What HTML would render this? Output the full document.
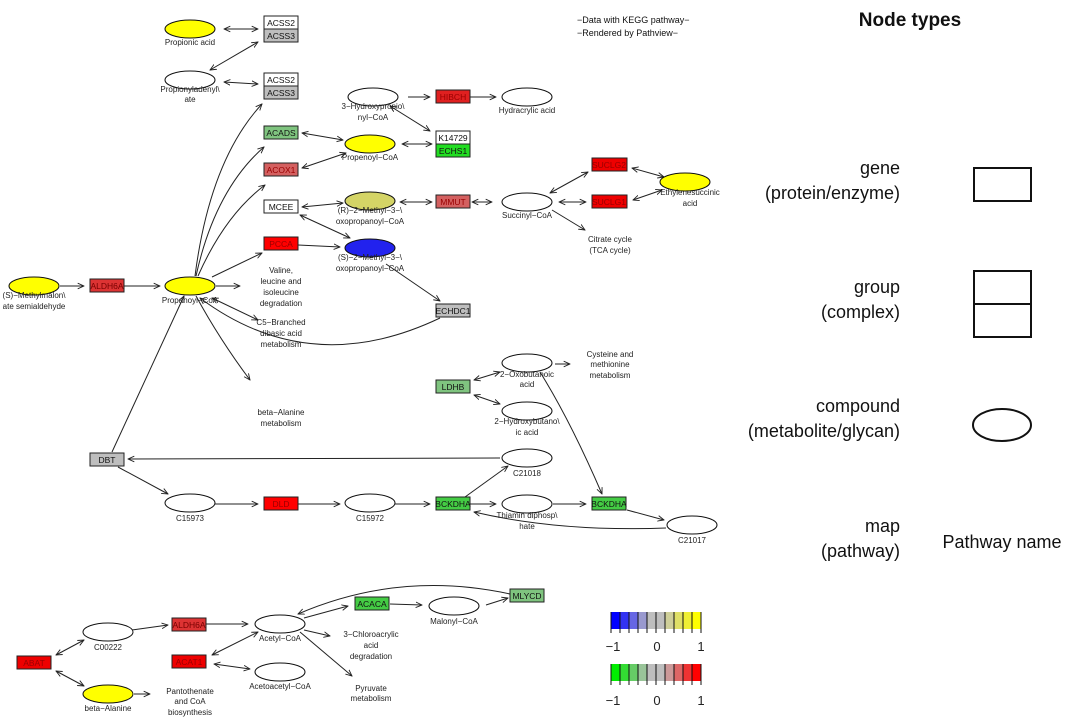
<!DOCTYPE html>
<html><head><meta charset="utf-8"><style>
html,body{margin:0;padding:0;background:#fff;}
svg{display:block;font-family:"Liberation Sans",sans-serif;}
.n{font-size:8px;fill:#222;text-anchor:middle;}
.g{font-size:8.5px;text-anchor:middle;}
.e{stroke:#222;stroke-width:1;fill:none;}
.L{font-size:18px;fill:#111;text-anchor:end;}
</style></head><body>
<svg width="1080" height="720" viewBox="0 0 1080 720" xmlns="http://www.w3.org/2000/svg">
<defs>
<marker id="a" viewBox="0 0 10 10" refX="9" refY="5" markerWidth="7" markerHeight="7" orient="auto-start-reverse"><path d="M0,1 L9,5 L0,9" fill="none" stroke="#222" stroke-width="1.3"/></marker>
</defs>
<g class="e">
<line x1="224" y1="29" x2="258" y2="29" marker-start="url(#a)" marker-end="url(#a)"/>
<line x1="210" y1="70" x2="258" y2="42" marker-start="url(#a)" marker-end="url(#a)"/>
<line x1="224" y1="82" x2="258" y2="84" marker-start="url(#a)" marker-end="url(#a)"/>
<path d="M195,276 Q210,160 262,104" marker-end="url(#a)"/>
<path d="M196,276 Q215,190 264,147" marker-end="url(#a)"/>
<path d="M198,276 Q225,215 265,185" marker-end="url(#a)"/>
<line x1="212" y1="277" x2="262" y2="253" marker-end="url(#a)"/>
<line x1="216" y1="286" x2="240" y2="286" marker-end="url(#a)"/>
<line x1="212" y1="298" x2="258" y2="320" marker-start="url(#a)" marker-end="url(#a)"/>
<path d="M196,296 Q220,340 250,380" marker-end="url(#a)"/>
<path d="M440,318 Q310,380 200,298" marker-end="url(#a)"/>
<line x1="60" y1="286" x2="84" y2="286" marker-end="url(#a)"/>
<line x1="124" y1="286" x2="160" y2="286" marker-end="url(#a)"/>
<line x1="302" y1="133" x2="343" y2="140" marker-start="url(#a)" marker-end="url(#a)"/>
<line x1="302" y1="168" x2="346" y2="153" marker-start="url(#a)" marker-end="url(#a)"/>
<line x1="302" y1="207" x2="343" y2="203" marker-start="url(#a)" marker-end="url(#a)"/>
<line x1="300" y1="215" x2="350" y2="238" marker-start="url(#a)" marker-end="url(#a)"/>
<line x1="298" y1="245" x2="340" y2="247" marker-end="url(#a)"/>
<line x1="386" y1="264" x2="440" y2="301" marker-end="url(#a)"/>
<line x1="400" y1="202" x2="432" y2="202" marker-start="url(#a)" marker-end="url(#a)"/>
<line x1="402" y1="144" x2="432" y2="144" marker-start="url(#a)" marker-end="url(#a)"/>
<line x1="390" y1="106" x2="430" y2="131" marker-start="url(#a)" marker-end="url(#a)"/>
<line x1="408" y1="97" x2="430" y2="97" marker-end="url(#a)"/>
<line x1="470" y1="97" x2="496" y2="97" marker-end="url(#a)"/>
<line x1="472" y1="202" x2="492" y2="202" marker-start="url(#a)" marker-end="url(#a)"/>
<line x1="550" y1="193" x2="588" y2="172" marker-start="url(#a)" marker-end="url(#a)"/>
<line x1="559" y1="202" x2="586" y2="202" marker-start="url(#a)" marker-end="url(#a)"/>
<line x1="552" y1="210" x2="585" y2="230" marker-end="url(#a)"/>
<line x1="632" y1="168" x2="664" y2="177" marker-start="url(#a)" marker-end="url(#a)"/>
<line x1="633" y1="200" x2="662" y2="190" marker-start="url(#a)" marker-end="url(#a)"/>
<line x1="555" y1="364" x2="570" y2="364" marker-end="url(#a)"/>
<line x1="474" y1="380" x2="500" y2="372" marker-start="url(#a)" marker-end="url(#a)"/>
<line x1="474" y1="395" x2="500" y2="404" marker-start="url(#a)" marker-end="url(#a)"/>
<path d="M540,372 Q570,420 602,494" marker-end="url(#a)"/>
<line x1="112" y1="452" x2="184" y2="296" marker-end="url(#a)"/>
<line x1="500" y1="458" x2="128" y2="459" marker-end="url(#a)"/>
<line x1="118" y1="467" x2="168" y2="494" marker-end="url(#a)"/>
<line x1="215" y1="504" x2="258" y2="504" marker-end="url(#a)"/>
<line x1="298" y1="504" x2="340" y2="504" marker-end="url(#a)"/>
<line x1="395" y1="504" x2="430" y2="504" marker-end="url(#a)"/>
<line x1="465" y1="497" x2="508" y2="466" marker-end="url(#a)"/>
<line x1="469" y1="504" x2="496" y2="504" marker-end="url(#a)"/>
<line x1="553" y1="504" x2="586" y2="504" marker-end="url(#a)"/>
<line x1="627" y1="510" x2="664" y2="520" marker-end="url(#a)"/>
<path d="M666,528 Q560,532 474,512" marker-end="url(#a)"/>
<path d="M510,594 Q400,570 298,614" marker-end="url(#a)"/>
<line x1="304" y1="618" x2="348" y2="606" marker-end="url(#a)"/>
<line x1="390" y1="604" x2="422" y2="605" marker-end="url(#a)"/>
<line x1="486" y1="605" x2="508" y2="598" marker-end="url(#a)"/>
<line x1="132" y1="630" x2="168" y2="625" marker-end="url(#a)"/>
<line x1="206" y1="624" x2="248" y2="624" marker-end="url(#a)"/>
<line x1="212" y1="655" x2="258" y2="632" marker-start="url(#a)" marker-end="url(#a)"/>
<line x1="214" y1="664" x2="250" y2="669" marker-start="url(#a)" marker-end="url(#a)"/>
<line x1="304" y1="630" x2="330" y2="636" marker-end="url(#a)"/>
<line x1="300" y1="632" x2="352" y2="676" marker-end="url(#a)"/>
<line x1="56" y1="655" x2="84" y2="640" marker-start="url(#a)" marker-end="url(#a)"/>
<line x1="56" y1="671" x2="84" y2="686" marker-start="url(#a)" marker-end="url(#a)"/>
<line x1="134" y1="694" x2="150" y2="694" marker-end="url(#a)"/>
</g>
<g stroke="#111" stroke-width="1">
<ellipse cx="190" cy="29" rx="25" ry="9" fill="#ffff00"/>
<ellipse cx="190" cy="80" rx="25" ry="9" fill="#fff"/>
<ellipse cx="373" cy="97" rx="25" ry="9" fill="#fff"/>
<ellipse cx="527" cy="97" rx="25" ry="9" fill="#fff"/>
<ellipse cx="370" cy="144" rx="25" ry="9" fill="#ffff00"/>
<ellipse cx="370" cy="201" rx="25" ry="9" fill="#d4d466"/>
<ellipse cx="527" cy="202" rx="25" ry="9" fill="#fff"/>
<ellipse cx="685" cy="182" rx="25" ry="9" fill="#ffff00"/>
<ellipse cx="370" cy="248" rx="25" ry="9" fill="#2222ee"/>
<ellipse cx="34" cy="286" rx="25" ry="9" fill="#ffff00"/>
<ellipse cx="190" cy="286" rx="25" ry="9" fill="#ffff00"/>
<ellipse cx="527" cy="363" rx="25" ry="9" fill="#fff"/>
<ellipse cx="527" cy="411" rx="25" ry="9" fill="#fff"/>
<ellipse cx="527" cy="458" rx="25" ry="9" fill="#fff"/>
<ellipse cx="190" cy="503" rx="25" ry="9" fill="#fff"/>
<ellipse cx="370" cy="503" rx="25" ry="9" fill="#fff"/>
<ellipse cx="527" cy="504" rx="25" ry="9" fill="#fff"/>
<ellipse cx="692" cy="525" rx="25" ry="9" fill="#fff"/>
<ellipse cx="454" cy="606" rx="25" ry="9" fill="#fff"/>
<ellipse cx="280" cy="624" rx="25" ry="9" fill="#fff"/>
<ellipse cx="108" cy="632" rx="25" ry="9" fill="#fff"/>
<ellipse cx="280" cy="672" rx="25" ry="9" fill="#fff"/>
<ellipse cx="108" cy="694" rx="25" ry="9" fill="#ffff00"/>
</g>
<g stroke="#222" stroke-width="1">
<rect x="264" y="16" width="34" height="13" fill="#fff"/><rect x="264" y="29" width="34" height="13" fill="#bebebe"/>
<rect x="264" y="73" width="34" height="13" fill="#fff"/><rect x="264" y="86" width="34" height="13" fill="#bebebe"/>
<rect x="264" y="126" width="34" height="13" fill="#7fc47f"/>
<rect x="264" y="163" width="34" height="13" fill="#d46060"/>
<rect x="264" y="200" width="34" height="13" fill="#fff"/>
<rect x="264" y="237" width="34" height="13" fill="#ff0000"/>
<rect x="436" y="90" width="34" height="13" fill="#e02020"/>
<rect x="436" y="131" width="34" height="13" fill="#fff"/><rect x="436" y="144" width="34" height="13" fill="#22dd22"/>
<rect x="436" y="195" width="34" height="13" fill="#d46060"/>
<rect x="436" y="304" width="34" height="13" fill="#bebebe"/>
<rect x="592" y="158" width="35" height="13" fill="#ee0000"/>
<rect x="592" y="195" width="35" height="13" fill="#ee0000"/>
<rect x="90" y="279" width="34" height="13" fill="#dd3333"/>
<rect x="436" y="380" width="34" height="13" fill="#7fc47f"/>
<rect x="90" y="453" width="34" height="13" fill="#bebebe"/>
<rect x="264" y="497" width="34" height="13" fill="#ff0000"/>
<rect x="436" y="497" width="34" height="13" fill="#44cc44"/>
<rect x="592" y="497" width="34" height="13" fill="#44cc44"/>
<rect x="510" y="589" width="34" height="13" fill="#7fc47f"/>
<rect x="355" y="597" width="34" height="13" fill="#44cc44"/>
<rect x="172" y="618" width="34" height="13" fill="#dd3333"/>
<rect x="172" y="655" width="34" height="13" fill="#ee0000"/>
<rect x="17" y="656" width="34" height="13" fill="#ee0000"/>
</g>
<g class="g" fill="#111">
<text x="281" y="26">ACSS2</text><text x="281" y="39">ACSS3</text>
<text x="281" y="83">ACSS2</text><text x="281" y="96">ACSS3</text>
<text x="281" y="136">ACADS</text>
<text x="281" y="173" fill="#900">ACOX1</text>
<text x="281" y="210">MCEE</text>
<text x="281" y="247" fill="#900">PCCA</text>
<text x="453" y="100" fill="#900">HIBCH</text>
<text x="453" y="141">K14729</text><text x="453" y="154">ECHS1</text>
<text x="453" y="205" fill="#900">MMUT</text>
<text x="453" y="314">ECHDC1</text>
<text x="609" y="168" fill="#900">SUCLG2</text>
<text x="609" y="205" fill="#900">SUCLG1</text>
<text x="107" y="289" fill="#700">ALDH6A</text>
<text x="453" y="390">LDHB</text>
<text x="107" y="463">DBT</text>
<text x="281" y="507" fill="#900">DLD</text>
<text x="453" y="507">BCKDHA</text>
<text x="609" y="507">BCKDHA</text>
<text x="527" y="599">MLYCD</text>
<text x="372" y="607">ACACA</text>
<text x="189" y="628" fill="#700">ALDH6A</text>
<text x="189" y="665" fill="#900">ACAT1</text>
<text x="34" y="666" fill="#900">ABAT</text>
</g>
<g class="n">
<text x="190" y="45">Propionic acid</text>
<text x="190" y="92">Propionyladenyl\</text><text x="190" y="102">ate</text>
<text x="373" y="109">3−Hydroxypropio\</text><text x="373" y="120">nyl−CoA</text>
<text x="527" y="113">Hydracrylic acid</text>
<text x="370" y="160">Propenoyl−CoA</text>
<text x="370" y="213">(R)−2−Methyl−3−\</text><text x="370" y="224">oxopropanoyl−CoA</text>
<text x="527" y="218">Succinyl−CoA</text>
<text x="690" y="195">Ethylenesuccinic</text><text x="690" y="206">acid</text>
<text x="610" y="242">Citrate cycle</text><text x="610" y="253">(TCA cycle)</text>
<text x="370" y="260">(S)−2−Methyl−3−\</text><text x="370" y="271">oxopropanoyl−CoA</text>
<text x="281" y="273">Valine,</text><text x="281" y="284">leucine and</text><text x="281" y="295">isoleucine</text><text x="281" y="306">degradation</text>
<text x="34" y="298">(S)−Methylmalon\</text><text x="34" y="309">ate semialdehyde</text>
<text x="190" y="303">Propanoyl−CoA</text>
<text x="281" y="325">C5−Branched</text><text x="281" y="336">dibasic acid</text><text x="281" y="347">metabolism</text>
<text x="281" y="415">beta−Alanine</text><text x="281" y="426">metabolism</text>
<text x="527" y="377">2−Oxobutanoic</text><text x="527" y="387">acid</text>
<text x="610" y="357">Cysteine and</text><text x="610" y="367">methionine</text><text x="610" y="378">metabolism</text>
<text x="527" y="424">2−Hydroxybutano\</text><text x="527" y="435">ic acid</text>
<text x="527" y="476">C21018</text>
<text x="190" y="521">C15973</text>
<text x="370" y="521">C15972</text>
<text x="527" y="518">Thiamin diphosp\</text><text x="527" y="529">hate</text>
<text x="692" y="543">C21017</text>
<text x="454" y="624">Malonyl−CoA</text>
<text x="280" y="641">Acetyl−CoA</text>
<text x="108" y="650">C00222</text>
<text x="280" y="689">Acetoacetyl−CoA</text>
<text x="108" y="711">beta−Alanine</text>
<text x="190" y="694">Pantothenate</text><text x="190" y="704">and CoA</text><text x="190" y="715">biosynthesis</text>
<text x="371" y="637">3−Chloroacrylic</text><text x="371" y="648">acid</text><text x="371" y="659">degradation</text>
<text x="371" y="691">Pyruvate</text><text x="371" y="701">metabolism</text>
</g>
<text x="577" y="23" font-size="9" fill="#111">−Data with KEGG pathway−</text>
<text x="577" y="36" font-size="9" fill="#111">−Rendered  by  Pathview−</text>
<g>
<rect x="611" y="612" width="9" height="17" fill="#0000ff"/><rect x="620" y="612" width="9" height="17" fill="#3333f2"/><rect x="629" y="612" width="9" height="17" fill="#6666e4"/><rect x="638" y="612" width="9" height="17" fill="#9999cf"/><rect x="647" y="612" width="9" height="17" fill="#bebebe"/><rect x="656" y="612" width="9" height="17" fill="#bebebe"/><rect x="665" y="612" width="9" height="17" fill="#cfcf99"/><rect x="674" y="612" width="9" height="17" fill="#e0e066"/><rect x="683" y="612" width="9" height="17" fill="#efef33"/><rect x="692" y="612" width="9" height="17" fill="#ffff00"/>
<rect x="611" y="664" width="9" height="17" fill="#00ee00"/><rect x="620" y="664" width="9" height="17" fill="#33dd33"/><rect x="629" y="664" width="9" height="17" fill="#66cc66"/><rect x="638" y="664" width="9" height="17" fill="#99c499"/><rect x="647" y="664" width="9" height="17" fill="#bebebe"/><rect x="656" y="664" width="9" height="17" fill="#bebebe"/><rect x="665" y="664" width="9" height="17" fill="#cc9999"/><rect x="674" y="664" width="9" height="17" fill="#dd6666"/><rect x="683" y="664" width="9" height="17" fill="#ee3333"/><rect x="692" y="664" width="9" height="17" fill="#ff0000"/>
<path stroke="#111" stroke-width="1" d="M611,612v21M620,612v21M629,612v21M638,612v21M647,612v21M656,612v21M665,612v21M674,612v21M683,612v21M692,612v21M701,612v21M611,664v21M620,664v21M629,664v21M638,664v21M647,664v21M656,664v21M665,664v21M674,664v21M683,664v21M692,664v21M701,664v21"/>
<g font-size="13" fill="#222" text-anchor="middle"><text x="613" y="651">−1</text><text x="657" y="651">0</text><text x="701" y="651">1</text><text x="613" y="705">−1</text><text x="657" y="705">0</text><text x="701" y="705">1</text></g>
</g>
<text x="910" y="26" font-size="19" font-weight="bold" text-anchor="middle" fill="#111">Node types</text>
<text class="L" x="900" y="174">gene</text><text class="L" x="900" y="199">(protein/enzyme)</text>
<rect x="974" y="168" width="57" height="33" fill="#fff" stroke="#111" stroke-width="2"/>
<text class="L" x="900" y="293">group</text><text class="L" x="900" y="318">(complex)</text>
<rect x="974" y="271" width="57" height="33" fill="#fff" stroke="#111" stroke-width="2"/><rect x="974" y="304" width="57" height="33" fill="#fff" stroke="#111" stroke-width="2"/>
<text class="L" x="900" y="412">compound</text><text class="L" x="900" y="437">(metabolite/glycan)</text>
<ellipse cx="1002" cy="425" rx="29" ry="16" fill="#fff" stroke="#111" stroke-width="2"/>
<text class="L" x="900" y="532">map</text><text class="L" x="900" y="557">(pathway)</text>
<text x="1002" y="548" font-size="18" text-anchor="middle" fill="#111">Pathway name</text>
</svg>
</body></html>
